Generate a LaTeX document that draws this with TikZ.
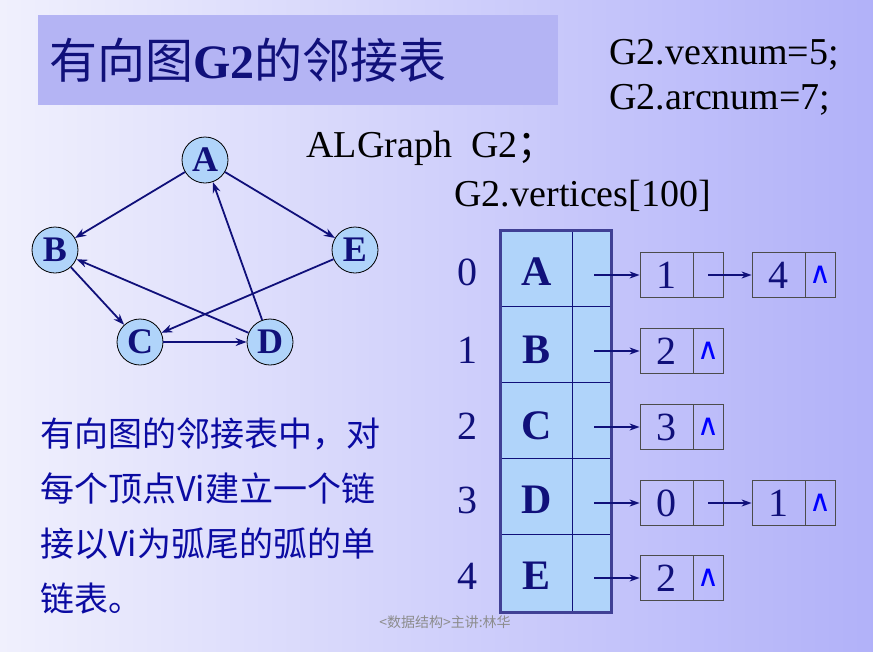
\documentclass[tikz,border=0pt]{standalone}
\usepackage{fontspec}
\setmainfont{Liberation Serif}
\newfontfamily\cjk{Noto Sans CJK SC}
\newfontfamily\djv{DejaVu Sans}
\usetikzlibrary{arrows.meta}
\definecolor{navy}{HTML}{10107A}
\definecolor{cellblue}{HTML}{B0D4FA}
\definecolor{titlebg}{HTML}{B4B4F4}
\newcommand{\nil}{{\djv\fontsize{30}{30}\selectfont ∧}}
\begin{document}
\begin{tikzpicture}[x=1pt,y=-1pt,
  vert/.style={circle,draw=black,thick,fill=cellblue,minimum size=46pt,inner sep=0pt,font=\fontsize{36}{36}\selectfont\bfseries,text=navy},
  edge/.style={-{Stealth[length=11pt,width=8pt]},navy,line width=1.8pt},
  lbox/.style={draw=black!70,thick,minimum width=53pt,minimum height=45pt,inner sep=0pt,font=\fontsize{40}{40}\selectfont,text=navy},
  pbox/.style={draw=black!70,thick,minimum width=30pt,minimum height=45pt,inner sep=0pt,text=blue},
  ptr/.style={-{Stealth[length=10pt,width=7pt]},navy,line width=1.6pt},
  idx/.style={font=\fontsize{40}{40}\selectfont,text=navy},
  code/.style={font=\fontsize{38}{38}\selectfont,text=black,anchor=west}]
\shade[left color=white!80!titlebg,right color=titlebg!80!blue!70] (0,0) rectangle (873,651);
\useasboundingbox (0,0) rectangle (873,651);
\fill[titlebg] (38,15) rectangle (558,105);
\node[anchor=west,text=navy,font=\fontsize{48}{48}\selectfont] (title) at (46,60) {{\cjk 有向图}\textbf{G2}{\cjk 的邻接表}};
\node[code] (vex) at (606,55) {G2.vexnum=5;};
\node[code] (arc) at (606,100) {G2.arcnum=7;};
\node[code] (alg) at (303,148) {ALGraph\ \ G2{\cjk ；}};
\node[code] (verts) at (451,196) {G2.vertices[100]};
% graph
\node[vert] (A) at (205,160) {A};
\node[vert] (B) at (55,250) {B};
\node[vert] (E) at (355,250) {E};
\node[vert] (C) at (140,342) {C};
\node[vert] (D) at (270,342) {D};
\draw[edge] (A) -- (B);
\draw[edge] (A) -- (E);
\draw[edge] (E) -- (C);
\draw[edge] (B) -- (C);
\draw[edge] (C) -- (D);
\draw[edge] (D) -- (B);
\draw[edge] (D) -- (A);
% table
\fill[cellblue] (500,230) rectangle (611,612);
\foreach \y in {306,382,458,534} \draw[navy,thick] (500,\y) -- (611,\y);
\draw[navy,thick] (572,230) -- (572,612);
\draw[navy!80,line width=3pt] (500,230) rectangle (611,612);
\foreach \i/\L/\y in {0/A/272,1/B/350,2/C/426,3/D/500,4/E/576}{
  \node[idx] (i\i) at (467,\y) {\i};
  \node[font=\fontsize{42}{42}\selectfont\bfseries,text=navy] (v\L) at (537,\y) {\L};
}
\foreach \i/\y in {0/275,1/351,2/427,3/503,4/578} \coordinate (p\i) at (594,\y);
% lists
\node[lbox] (n0a) at (666.5,275) {1};
\node[pbox] (n0ap) at (708,275) {};
\node[lbox] (n0b) at (778.5,275) {4};
\node[pbox] (n0bp) at (820,275) {\nil};
\draw[ptr] (p0) -- (n0a.west);
\draw[ptr] (n0ap.center) -- (n0b.west);
\node[lbox] (n1) at (666.5,351) {2};
\node[pbox] (n1p) at (708,351) {\nil};
\draw[ptr] (p1) -- (n1.west);
\node[lbox] (n2) at (666.5,427) {3};
\node[pbox] (n2p) at (708,427) {\nil};
\draw[ptr] (p2) -- (n2.west);
\node[lbox] (n3a) at (666.5,503) {0};
\node[pbox] (n3ap) at (708,503) {};
\node[lbox] (n3b) at (778.5,503) {1};
\node[pbox] (n3bp) at (820,503) {\nil};
\draw[ptr] (p3) -- (n3a.west);
\draw[ptr] (n3ap.center) -- (n3b.west);
\node[lbox] (n4) at (666.5,578) {2};
\node[pbox] (n4p) at (708,578) {\nil};
\draw[ptr] (p4) -- (n4.west);
% description
\node[anchor=north west,align=left,text=navy!70!blue,font=\cjk\fontsize{34}{55}\selectfont,inner sep=0pt] (desc) at (40,418)
  {有向图的邻接表中，对\\每个顶点Vi建立一个链\\接以Vi为弧尾的弧的单\\链表。};
\node[text=black!45,font=\cjk\fontsize{14}{14}\selectfont] (foot) at (445,622) {<数据结构>主讲:林华};
\end{tikzpicture}
\end{document}
